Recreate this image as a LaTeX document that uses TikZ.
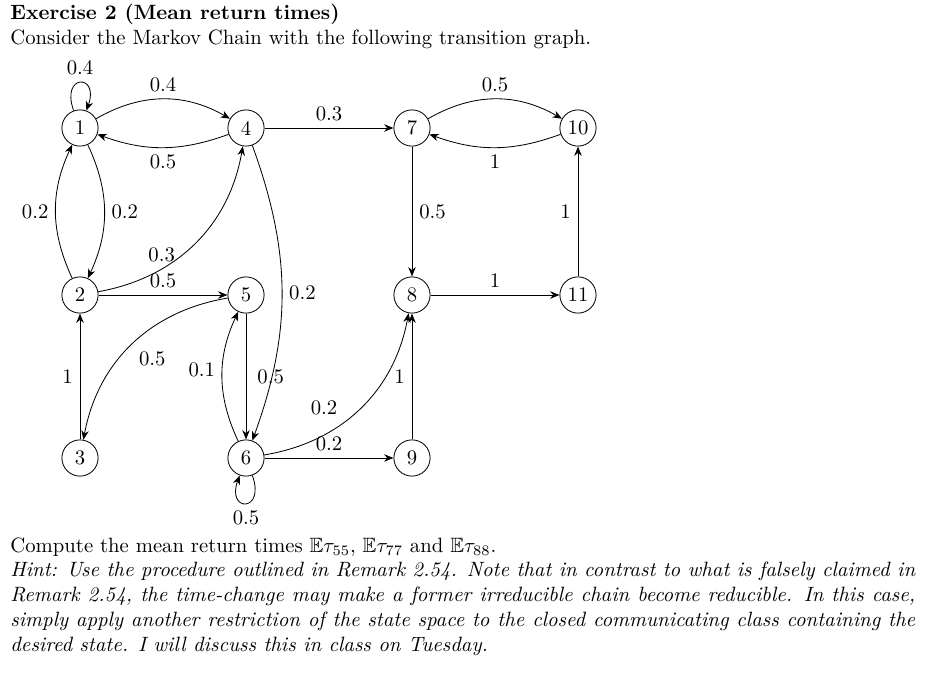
\documentclass[tikz,border=0pt]{standalone}
\usepackage{amssymb}
\usetikzlibrary{arrows.meta}
\begin{document}
\begin{tikzpicture}[x=0.483pt,y=-0.483pt,
  st/.style={circle,draw,minimum size=17.5pt,inner sep=0pt},
  ar/.style={-{Stealth[length=4.5pt,width=3.6pt]},thin},
  lb/.style={font=\normalsize},
  txt/.style={anchor=north west,inner sep=0pt,text width=437pt,align=justify}]
\useasboundingbox (0,0) rectangle (940,686);
\node[txt] (t1) at (10,4) {\textbf{Exercise 2 (Mean return times)}};
\node[txt] (t2) at (10,29) {Consider the Markov Chain with the following transition graph.};
\node[st] (n1) at (80,128) {1};
\node[st] (n4) at (246,128) {4};
\node[st] (n7) at (412,128) {7};
\node[st] (n10) at (578,128) {10};
\node[st] (n2) at (80,295) {2};
\node[st] (n5) at (246,295) {5};
\node[st] (n8) at (412,295) {8};
\node[st] (n11) at (578,295) {11};
\node[st] (n3) at (80,458) {3};
\node[st] (n6) at (246,458) {6};
\node[st] (n9) at (412,458) {9};
\draw[ar] (n1) to[out=110,in=70,looseness=8] node[above,lb]{0.4} (n1);
\draw[ar] (n6) to[out=-70,in=-110,looseness=8] node[below,lb]{0.5} (n6);
\draw[ar] (n1) to[bend left=30] node[above,lb]{0.4} (n4);
\draw[ar] (n4) to[bend left=20] node[below,lb]{0.5} (n1);
\draw[ar] (n1) to[bend left=25] node[right,lb]{0.2} (n2);
\draw[ar] (n2) to[bend left=25] node[left,lb]{0.2} (n1);
\draw[ar] (n2) to[bend right=35] node[above,lb,pos=0.3]{0.3} (n4);
\draw[ar] (n2) -- node[above,lb]{0.5} (n5);
\draw[ar] (n3) -- node[left,lb]{1} (n2);
\draw[ar] (n5) to[bend right=35] node[below right,lb,pos=0.5]{0.5} (n3);
\draw[ar] (n6) to[bend left=25] node[left,lb,pos=0.55]{0.1} (n5);
\draw[ar] (n5) -- node[right,lb,xshift=2pt]{0.5} (n6);
\draw[ar] (n4) to[bend left=20] node[right,lb]{0.2} (n6);
\draw[ar] (n4) -- node[above,lb]{0.3} (n7);
\draw[ar] (n7) to[bend left=30] node[above,lb]{0.5} (n10);
\draw[ar] (n10) to[bend left=20] node[below,lb]{1} (n7);
\draw[ar] (n7) -- node[right,lb]{0.5} (n8);
\draw[ar] (n8) -- node[above,lb]{1} (n11);
\draw[ar] (n11) -- node[left,lb]{1} (n10);
\draw[ar] (n6) to[bend right=35] node[above left,lb,pos=0.4]{0.2} (n8);
\draw[ar] (n6) -- node[above,lb]{0.2} (n9);
\draw[ar] (n9) -- node[left,lb]{1} (n8);
\node[txt] (t3) at (10,537) {\hyphenpenalty=10000 Compute the mean return times $\mathbb{E}\tau_{55}$, $\mathbb{E}\tau_{77}$ and $\mathbb{E}\tau_{88}$.\\
\textit{Hint: Use the procedure outlined in Remark 2.54. Note that in contrast to what is falsely claimed in Remark 2.54, the time-change may make a former irreducible chain become reducible. In this case, simply apply another restriction of the state space to the closed communicating class containing the desired state. I will discuss this in class on Tuesday.}\par};
\end{tikzpicture}
\end{document}
